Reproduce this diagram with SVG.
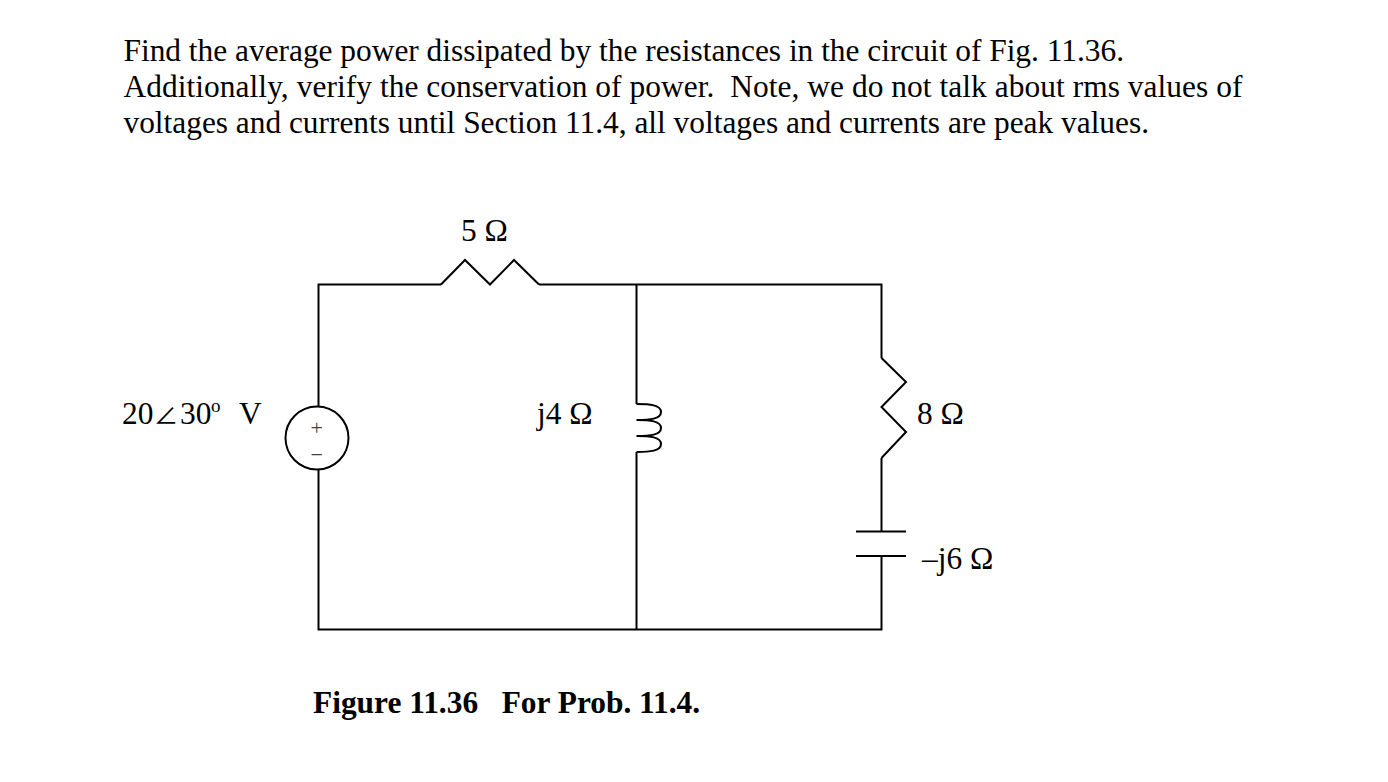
<svg xmlns="http://www.w3.org/2000/svg" width="1388" height="782" viewBox="0 0 1388 782">
<style>
text{font-family:"Liberation Serif","Times New Roman",serif;font-size:31.4px;fill:#000;white-space:pre}
.w{fill:none;stroke:#000;stroke-width:2;stroke-linejoin:miter}
.s{font-size:22px;fill:#444;text-anchor:middle}
</style>
<rect width="1388" height="782" fill="#fff"/>
<g id="problem-text">
<text x="123.500" y="61" textLength="1000.500">Find the average power dissipated by the resistances in the circuit of Fig. 11.36.</text>
<text x="123.500" y="97" textLength="1119">Additionally, verify the conservation of power.  Note, we do not talk about rms values of</text>
<text x="123.500" y="133" textLength="1025.500">voltages and currents until Section 11.4, all voltages and currents are peak values.</text>
</g>
<g id="connectors">
<path class="w" d="M318.500 407V284.500H441M539 284.500H881.500V358M636.500 284.500V404M636.500 452V629.500M318.500 470V629.500H881.500V556M881.500 458V531"/>
</g>
<g id="source"><circle class="w" cx="317" cy="438" r="31.500"/>
<text x="316.700" y="435" class="s">+</text>
<text x="316.700" y="461.500" class="s">−</text>
<text x="122" y="424">20</text><text x="154" y="424" style="font-family:'Noto Sans CJK JP','DejaVu Sans',sans-serif;font-size:24px">∠</text><text x="180" y="424">30</text><text x="211" y="412" style="font-size:19px">o</text><text x="239" y="424">V</text></g>
<g id="r5"><path class="w" d="M441 284.500L465 260L490 284.500L514 260L539 284.500"/><text x="461" y="241">5 Ω</text></g>
<g id="l4"><path class="w" d="M636.500 404C650 404 661 405 661 412C661 419 650 420 636.500 420C650 420 661 421 661 428C661 435 650 436 636.500 436C650 436 661 437 661 444C661 451 650 452 636.500 452"/><text x="537" y="424">j4 Ω</text></g>
<g id="r8"><path class="w" d="M881.500 358L906 382L881.500 407L906 432L881.500 458"/><text x="917" y="424">8 Ω</text></g>
<g id="c6"><path class="w" d="M856 531.500H906M856 556H906"/><text x="922" y="569">–j6 Ω</text></g>
<g id="caption"><text x="313" y="713" style="font-weight:bold">Figure 11.36   For Prob. 11.4.</text></g>
</svg>
